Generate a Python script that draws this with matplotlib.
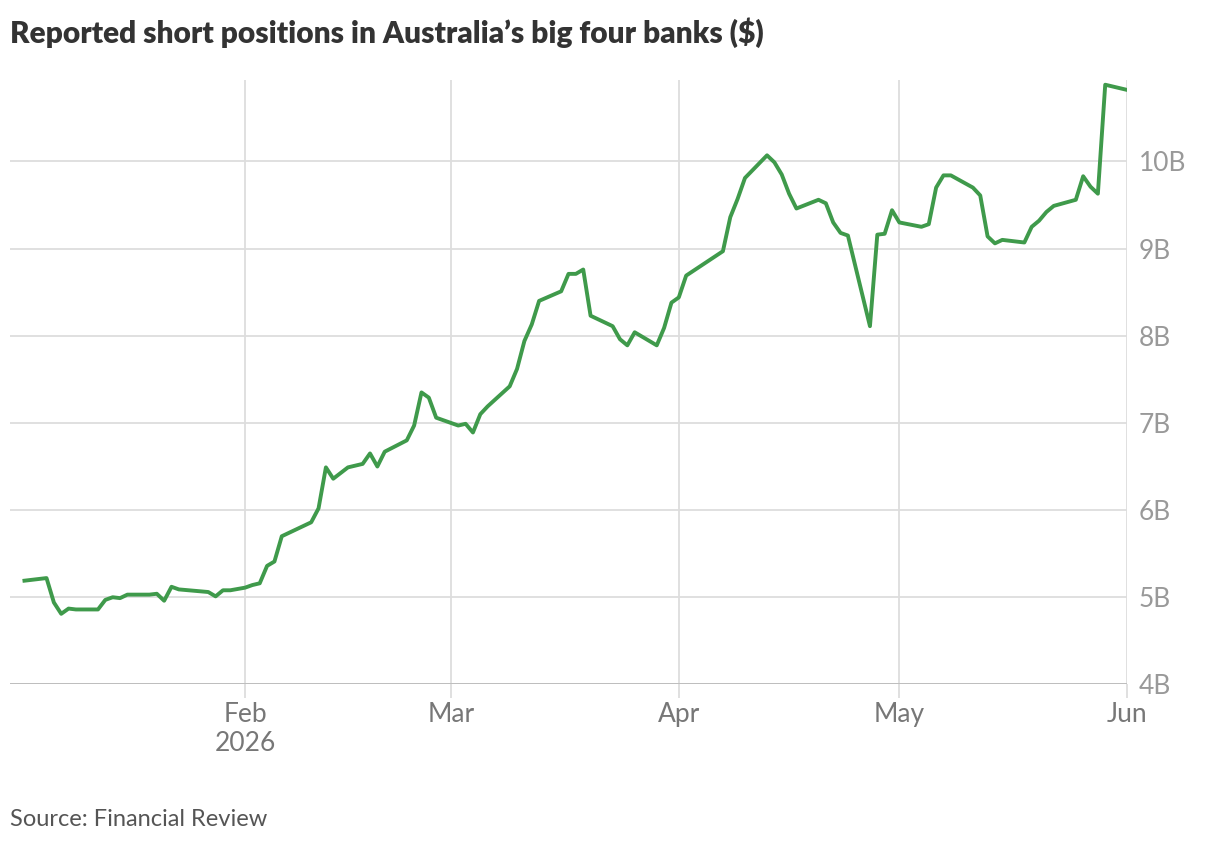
import datetime as dt

import matplotlib.dates as mdates
from matplotlib import pyplot as plt

plt.rcParams['font.family'] = ['Lato', 'DejaVu Sans']

# days offset from 1 Feb 2026
day_offsets = [-30, -27, -26, -25, -24, -23, -20, -19, -18, -17, -16, -13, -12, -11, -10, -9,
               -5, -4, -3, -2, 0, 1, 2, 3, 4, 5, 9, 10, 11, 12, 14, 16, 17, 18, 19, 22, 23, 24,
               25, 26, 29, 30, 31, 32, 33, 36, 37, 38, 39, 40, 43, 44, 45, 46, 47, 50, 51, 52,
               53, 56, 57, 58, 59, 60, 65, 66, 67, 68, 71, 72, 73, 74, 75, 78, 79, 80, 81, 82,
               85, 86, 87, 88, 89, 92, 93, 94, 95, 96, 99, 100, 101, 102, 103, 106, 107, 108,
               109, 110, 113, 114, 115, 116, 117, 120]
values_b = [5.19, 5.22, 4.94, 4.81, 4.87, 4.86, 4.86, 4.97, 5.00, 4.99, 5.03, 5.03, 5.04, 4.96,
            5.12, 5.09, 5.06, 5.01, 5.08, 5.08, 5.11, 5.14, 5.16, 5.36, 5.41, 5.70, 5.86, 6.02,
            6.49, 6.36, 6.49, 6.53, 6.65, 6.50, 6.67, 6.80, 6.97, 7.35, 7.29, 7.06, 6.97, 6.99,
            6.89, 7.10, 7.19, 7.42, 7.62, 7.94, 8.13, 8.40, 8.51, 8.71, 8.71, 8.76, 8.23, 8.11,
            7.96, 7.89, 8.04, 7.89, 8.09, 8.38, 8.44, 8.69, 8.97, 9.36, 9.57, 9.81, 10.07, 9.99,
            9.85, 9.63, 9.46, 9.56, 9.52, 9.30, 9.18, 9.15, 8.11, 9.16, 9.17, 9.44, 9.30, 9.25,
            9.28, 9.70, 9.84, 9.84, 9.70, 9.61, 9.14, 9.06, 9.10, 9.07, 9.25, 9.32, 9.42, 9.49,
            9.56, 9.83, 9.71, 9.63, 10.88, 10.82]
y_ticks = [4, 5, 6, 7, 8, 9, 10]
month_ticks = [dt.date(2026, 2, 1), dt.date(2026, 3, 1), dt.date(2026, 4, 1),
               dt.date(2026, 5, 1), dt.date(2026, 6, 1)]
month_labels = ['Feb\n2026', 'Mar', 'Apr', 'May', 'Jun']

base = dt.date(2026, 2, 1)
dates = [base + dt.timedelta(days=d) for d in day_offsets]

fig = plt.figure(figsize=(12.2, 8.46), dpi=100)
ax = fig.add_axes([0.008, 0.191, 0.916, 0.714])
ax.plot(dates, values_b, color='#3f9a4b', linewidth=2.8, solid_joinstyle='round')

ax.set_xlim(base - dt.timedelta(days=32.0), dt.date(2026, 6, 1))
ax.set_ylim(4, 10.93)
ax.set_xticks(month_ticks)
ax.set_xticklabels(month_labels)
ax.set_yticks(y_ticks)
ax.set_yticklabels([f'{v}B' for v in y_ticks])
ax.yaxis.tick_right()
ax.grid(color='#dddddd', linewidth=1.3)
ax.set_axisbelow(True)
for s in ax.spines.values():
    s.set_visible(False)
ax.axhline(4, color='#bbbbbb', linewidth=1.3, zorder=1)
ax.tick_params(axis='y', length=0, labelsize=19, labelcolor='#999999', pad=8)
ax.tick_params(axis='x', length=10, color='#dddddd', width=1.3, labelsize=19,
               labelcolor='#777777', pad=3)

fig.text(0.008, 0.961, 'Reported short positions in Australia’s big four banks ($)',
         fontsize=21.5, fontweight='heavy', color='#333333', va='center')
fig.text(0.008, 0.031, 'Source: Financial Review', fontsize=17, color='#555555', va='center')

fig.savefig('out.png')
